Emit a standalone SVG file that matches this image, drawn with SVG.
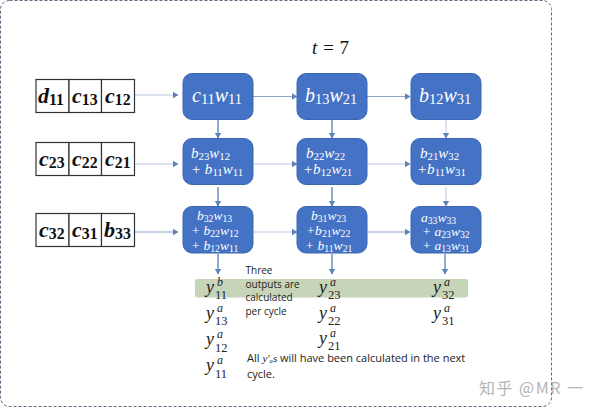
<svg xmlns="http://www.w3.org/2000/svg" width="600" height="413" viewBox="0 0 600 413">
<style>
.n{fill:#4472c4;stroke:#3a66b3;stroke-width:1}
.cell{fill:#fff;stroke:#333;stroke-width:1.2}
.c{fill:none;stroke:#8ea3c6;stroke-width:1;marker-end:url(#a)}
.l{fill:none;stroke:#dde3ef;stroke-width:2;marker-end:url(#a)}
.d{fill:none;stroke:#6f8fc4;stroke-width:1.5;marker-end:url(#a)}
text{font-family:"Liberation Serif",serif}
.m{font-style:italic;fill:#fff}
.m1{font-size:20px}.m2{font-size:15px}.m3{font-size:13.500px}
.t{font-style:italic;font-weight:bold;font-size:22px;fill:#111}
.s{font-style:normal;font-size:.72em}
.y{font-style:italic;font-size:18px;fill:#222}
.u{font-size:12px}
.sb{font-style:normal;font-size:12.500px}
.b{font-family:"Open Sans","Liberation Sans",sans-serif;font-size:10px;fill:#222}
.w{font-size:11px}
</style>
<defs><marker id="a" markerUnits="userSpaceOnUse" markerWidth="6" markerHeight="7" refX="5.500" refY="3.500" orient="auto"><path d="M0 0L6 3.500L0 7Z" fill="#5f82b8"/></marker></defs>
<rect x="0.500" y="0.500" width="551" height="406" rx="9" fill="#fff" stroke="#5c6b80" stroke-width="1" stroke-dasharray="3 2"/>
<rect x="195" y="279" width="273" height="18.500" rx="2" fill="#c6d5b7"/>
<g id="connectors">
<path class="l" d="M135 95H178"/><path class="c" d="M253 96.500H297"/><path class="c" d="M367 96.500H410"/>
<path class="l" d="M135 164H178"/><path class="l" d="M254 164H297"/><path class="l" d="M367 164H410"/>
<path class="c" d="M135 232H178"/><path class="l" d="M254 232H297"/><path class="c" d="M367 232H410"/>
<path class="d" d="M218 120V138"/><path class="d" d="M332 120V138"/><path class="l" d="M446 120V138"/>
<path class="d" d="M218 187V206"/><path class="d" d="M332 187V206"/><path class="l" d="M446 187V206"/>
<path class="d" d="M218 254V274"/><path class="d" d="M332 254V274"/><path class="d" d="M445 254V274"/>
</g>
<g id="input-1"><rect class="cell" x="36" y="79.500" width="33" height="33"/><rect class="cell" x="69" y="79.500" width="32.500" height="33"/><rect class="cell" x="101.500" y="79.500" width="33" height="33"/>
<text class="t" x="38" y="103">d<tspan class="s" dy="2">11</tspan></text><text class="t" x="72" y="103">c<tspan class="s" dy="2">13</tspan></text><text class="t" x="105" y="103">c<tspan class="s" dy="2">12</tspan></text></g>
<g id="input-2"><rect class="cell" x="36" y="142.500" width="33" height="33"/><rect class="cell" x="69" y="142.500" width="32.500" height="33"/><rect class="cell" x="101.500" y="142.500" width="33" height="33"/>
<text class="t" x="39" y="166">c<tspan class="s" dy="2">23</tspan></text><text class="t" x="72" y="166">c<tspan class="s" dy="2">22</tspan></text><text class="t" x="105" y="166">c<tspan class="s" dy="2">21</tspan></text></g>
<g id="input-3"><rect class="cell" x="36" y="213.500" width="33" height="33"/><rect class="cell" x="69" y="213.500" width="32.500" height="33"/><rect class="cell" x="101.500" y="213.500" width="33" height="33"/>
<text class="t" x="39" y="237">c<tspan class="s" dy="2">32</tspan></text><text class="t" x="72" y="237">c<tspan class="s" dy="2">31</tspan></text><text class="t" x="104" y="237">b<tspan class="s" dy="2">33</tspan></text></g>
<g id="n11"><rect class="n" x="183" y="73.500" width="70" height="46" rx="9"/><text class="m m1" x="192" y="102">c<tspan class="s" dy="2">11</tspan><tspan dy="-2">w</tspan><tspan class="s" dy="2">11</tspan></text></g>
<g id="n12"><rect class="n" x="297" y="73.500" width="70" height="46" rx="9"/><text class="m m1" x="305" y="102">b<tspan class="s" dy="2">13</tspan><tspan dy="-2">w</tspan><tspan class="s" dy="2">21</tspan></text></g>
<g id="n13"><rect class="n" x="411" y="73.500" width="70" height="46" rx="9"/><text class="m m1" x="419" y="102">b<tspan class="s" dy="2">12</tspan><tspan dy="-2">w</tspan><tspan class="s" dy="2">31</tspan></text></g>
<g id="n21"><rect class="n" x="183" y="138.500" width="70" height="46" rx="9"/><text class="m m2" x="191" y="158">b<tspan class="s" dy="1.500">23</tspan><tspan dy="-1.500">w</tspan><tspan class="s" dy="1.500">12</tspan></text><text class="m m2" x="191" y="174">+ b<tspan class="s" dy="1.500">11</tspan><tspan dy="-1.500">w</tspan><tspan class="s" dy="1.500">11</tspan></text></g>
<g id="n22"><rect class="n" x="297" y="138.500" width="70" height="46" rx="9"/><text class="m m2" x="306" y="158">b<tspan class="s" dy="1.500">22</tspan><tspan dy="-1.500">w</tspan><tspan class="s" dy="1.500">22</tspan></text><text class="m m2" x="303" y="174">+b<tspan class="s" dy="1.500">12</tspan><tspan dy="-1.500">w</tspan><tspan class="s" dy="1.500">21</tspan></text></g>
<g id="n23"><rect class="n" x="411" y="138.500" width="70" height="46" rx="9"/><text class="m m2" x="420" y="158">b<tspan class="s" dy="1.500">21</tspan><tspan dy="-1.500">w</tspan><tspan class="s" dy="1.500">32</tspan></text><text class="m m2" x="417" y="174">+b<tspan class="s" dy="1.500">11</tspan><tspan dy="-1.500">w</tspan><tspan class="s" dy="1.500">31</tspan></text></g>
<g id="n31"><rect class="n" x="183" y="206.500" width="70" height="46.500" rx="9"/><text class="m m3" x="197" y="220">b<tspan class="s" dy="1.500">32</tspan><tspan dy="-1.500">w</tspan><tspan class="s" dy="1.500">13</tspan></text><text class="m m3" x="191" y="235">+ b<tspan class="s" dy="1.500">22</tspan><tspan dy="-1.500">w</tspan><tspan class="s" dy="1.500">12</tspan></text><text class="m m3" x="191" y="250">+ b<tspan class="s" dy="1.500">12</tspan><tspan dy="-1.500">w</tspan><tspan class="s" dy="1.500">11</tspan></text></g>
<g id="n32"><rect class="n" x="297" y="206.500" width="70" height="46.500" rx="9"/><text class="m m3" x="311" y="220">b<tspan class="s" dy="1.500">31</tspan><tspan dy="-1.500">w</tspan><tspan class="s" dy="1.500">23</tspan></text><text class="m m3" x="306" y="235">+b<tspan class="s" dy="1.500">21</tspan><tspan dy="-1.500">w</tspan><tspan class="s" dy="1.500">22</tspan></text><text class="m m3" x="305" y="250">+ b<tspan class="s" dy="1.500">11</tspan><tspan dy="-1.500">w</tspan><tspan class="s" dy="1.500">21</tspan></text></g>
<g id="n33"><rect class="n" x="411" y="206.500" width="70" height="46.500" rx="9"/><text class="m m3" x="421" y="222">a<tspan class="s" dy="1.500">33</tspan><tspan dy="-1.500">w</tspan><tspan class="s" dy="1.500">33</tspan></text><text class="m m3" x="422" y="236">+ a<tspan class="s" dy="1.500">23</tspan><tspan dy="-1.500">w</tspan><tspan class="s" dy="1.500">32</tspan></text><text class="m m3" x="422" y="250">+ a<tspan class="s" dy="1.500">13</tspan><tspan dy="-1.500">w</tspan><tspan class="s" dy="1.500">31</tspan></text></g>
<text x="312" y="54" style="font-size:19px;font-style:italic;fill:#111">t = <tspan font-style="normal">7</tspan></text>
<g id="outputs">
<g><text class="y" x="206" y="293">y</text><text class="y u" x="217" y="286">b</text><text class="y sb" x="215" y="299">11</text></g>
<g><text class="y" x="206" y="319">y</text><text class="y u" x="217" y="312">a</text><text class="y sb" x="215" y="325">13</text></g>
<g><text class="y" x="206" y="345">y</text><text class="y u" x="217" y="338">a</text><text class="y sb" x="215" y="352">12</text></g>
<g><text class="y" x="206" y="371">y</text><text class="y u" x="217" y="364">a</text><text class="y sb" x="215" y="378">11</text></g>
<g><text class="y" x="319" y="293">y</text><text class="y u" x="330" y="286">a</text><text class="y sb" x="328" y="299">23</text></g>
<g><text class="y" x="319" y="319">y</text><text class="y u" x="330" y="312">a</text><text class="y sb" x="328" y="325">22</text></g>
<g><text class="y" x="319" y="344">y</text><text class="y u" x="330" y="337">a</text><text class="y sb" x="328" y="350">21</text></g>
<g><text class="y" x="433" y="293">y</text><text class="y u" x="444" y="286">a</text><text class="y sb" x="442" y="299">32</text></g>
<g><text class="y" x="433" y="319">y</text><text class="y u" x="444" y="312">a</text><text class="y sb" x="442" y="325">31</text></g>
</g>
<text class="b" x="245.500" y="274">Three</text><text class="b" x="245.500" y="288">outputs are</text><text class="b" x="245.500" y="301">calculated</text><text class="b" x="245.500" y="315">per cycle</text>
<text class="b w" x="247" y="362">All <tspan font-family="Liberation Serif" font-style="italic">y′ₐs</tspan> will have been calculated in the next</text>
<text class="b w" x="247" y="378">cycle.</text>
<text x="479" y="394" style="font-family:'Noto Sans CJK SC','Noto Sans',sans-serif;font-size:16px;letter-spacing:1.500px;fill:#b5b5b5">知乎 @MR 一</text>
</svg>
